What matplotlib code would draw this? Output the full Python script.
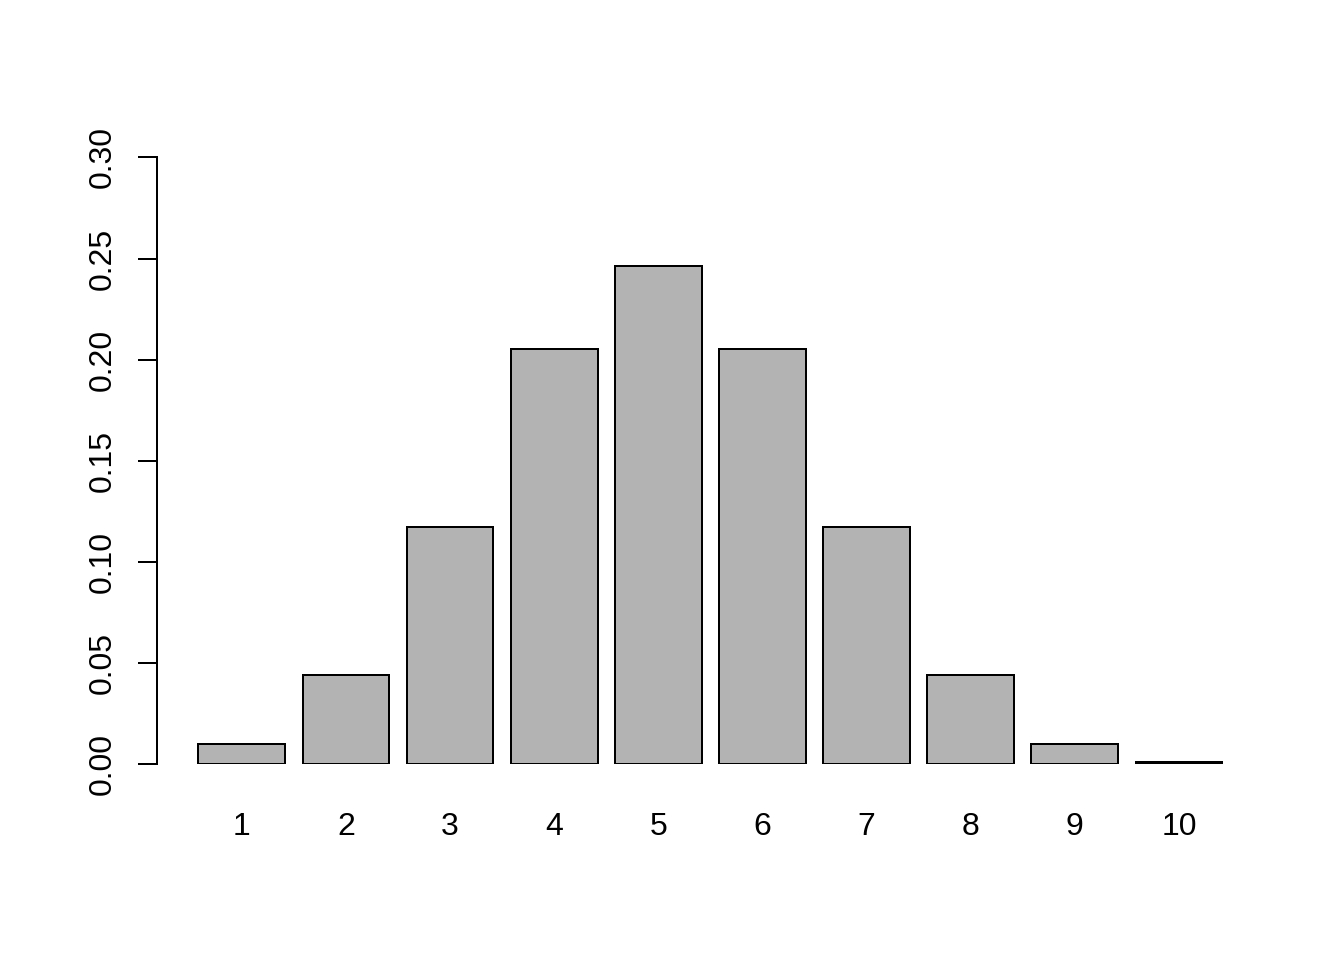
import numpy as np
import matplotlib
matplotlib.use("Agg")
import matplotlib.pyplot as plt

# probabilidades (k = 1..10)
categorias = ["1", "2", "3", "4", "5", "6", "7", "8", "9", "10"]
probabilidades = [0.0098, 0.0439, 0.1172, 0.2051, 0.2461,
                  0.2051, 0.1172, 0.0439, 0.0098, 0.0010]
y_ticks = [0.00, 0.05, 0.10, 0.15, 0.20, 0.25, 0.30]

plt.rcParams['font.family'] = ['Liberation Sans', 'DejaVu Sans']
plt.rcParams['font.size'] = 12

fig = plt.figure(figsize=(7, 5), dpi=192)
# margenes estilo R: mar = c(5.1, 4.1, 4.1, 2.1)
ax = fig.add_axes([0.82 / 7, 1.02 / 5, 1 - (0.82 + 0.42) / 7, 1 - (1.02 + 0.82) / 5])

# posiciones tipo barplot de R (ancho 1, espacio 0.2)
n = len(categorias)
centros = 0.7 + 1.2 * np.arange(n)
ax.bar(centros, probabilidades, width=1.0, color="#b3b3b3",
       edgecolor="black", linewidth=0.75)

ax.set_xlim(0.2 - 0.04 * 11.8, 12 + 0.04 * 11.8)
ax.set_ylim(0, 0.3)

ax.set_xticks(centros)
ax.set_xticklabels(categorias)
ax.tick_params(axis='x', length=0, pad=18)

ax.set_yticks(y_ticks)
ax.set_yticklabels([f"{v:.2f}" for v in y_ticks], rotation=90, va='center')
ax.tick_params(axis='y', length=7.2, width=0.75, pad=7.5)

for lado in ['top', 'right', 'bottom']:
    ax.spines[lado].set_visible(False)
ax.spines['left'].set_linewidth(0.75)

fig.savefig("out.png", dpi=192)
